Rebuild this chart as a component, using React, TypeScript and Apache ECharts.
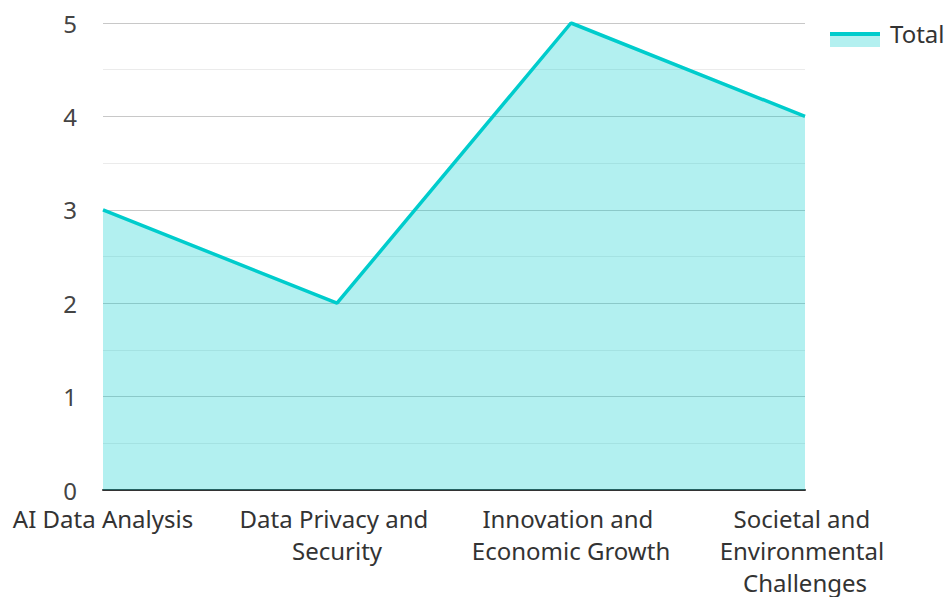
import React, { useEffect, useRef } from "react";
import * as echarts from "echarts";

const categories = [
  "AI Data Analysis",
  "Data Privacy and Security",
  "Innovation and Economic Growth",
  "Societal and Environmental Challenges",
];
const totalValues = [3, 2, 5, 4];
const seriesName = "Total";

const LINE = "#00cccc";
const AREA = "rgba(0,204,204,0.3)";

export default function App() {
  const ref = useRef<HTMLDivElement>(null);
  useEffect(() => {
    if (!ref.current) return;
    const chart = echarts.init(ref.current, undefined, { renderer: "svg" });
    chart.setOption({
      animation: false,
      textStyle: { fontFamily: "Noto Sans" },
      grid: { left: 103, right: 141, top: 23, bottom: 107, containLabel: false, outerBoundsMode: "none" },
      legend: {
        left: 830,
        top: 19,
        padding: 0,
        itemWidth: 50,
        itemHeight: 28,
        icon: "rect",
        data: [
          {
            name: seriesName,
            itemStyle: {
              color: new echarts.graphic.LinearGradient(0, 0, 0, 1, [
                { offset: 0, color: "rgba(0,0,0,0)" },
                { offset: 0.47, color: "rgba(0,0,0,0)" },
                { offset: 0.47, color: LINE },
                { offset: 0.61, color: LINE },
                { offset: 0.61, color: "#b3f0f0" },
                { offset: 1, color: "#b3f0f0" },
              ]),
            },
          },
        ],
        textStyle: { fontSize: 24, color: "#333", fontFamily: "Noto Sans", padding: [0, 0, 0, 5] },
        itemGap: 10,
      },
      xAxis: {
        type: "category",
        data: categories,
        boundaryGap: false,
        axisLine: { show: true, lineStyle: { color: "#333", width: 2 } },
        axisTick: { show: false },
        axisLabel: {
          fontSize: 24,
          color: "#333",
          margin: 12,
          lineHeight: 32,
          width: 230,
          overflow: "break",
          interval: 0,
          fontFamily: "Noto Sans",
        },
        splitLine: { show: false },
      },
      yAxis: {
        type: "value",
        min: 0,
        max: 5,
        interval: 1,
        axisLine: { show: false },
        axisTick: { show: false },
        axisLabel: { fontSize: 24, lineHeight: 22, color: "#444", margin: 26, fontFamily: "Noto Sans" },
        splitLine: { show: true, lineStyle: { color: "#c8c8c8", width: 1 } },
        minorTick: { show: false, splitNumber: 2 },
        minorSplitLine: { show: true, lineStyle: { color: "#ebebeb", width: 1 } },
      },
      series: [
        {
          name: seriesName,
          type: "line",
          data: totalValues,
          showSymbol: false,
          symbol: "none",
          lineStyle: { color: LINE, width: 3.5 },
          itemStyle: { color: LINE },
          areaStyle: { color: AREA, opacity: 1 },
        },
      ],
    });
    return () => chart.dispose();
  }, []);
  return <div ref={ref} style={{ width: 946, height: 597, position: "absolute", left: 0, top: 0 }} />;
}
